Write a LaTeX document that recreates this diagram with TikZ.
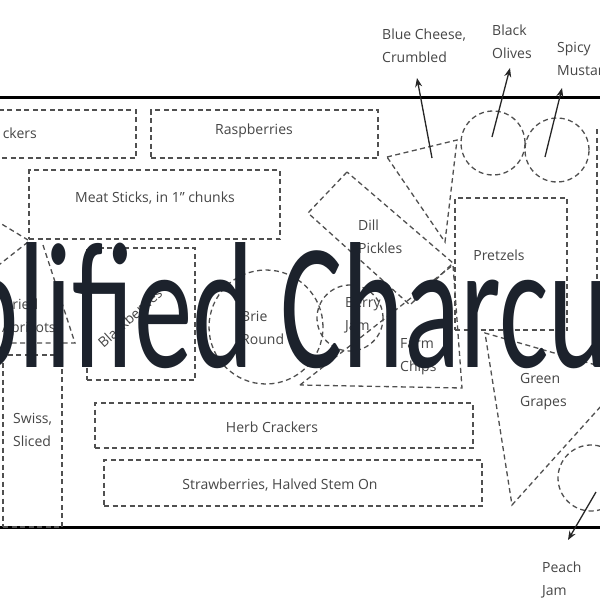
\documentclass[tikz,border=0pt]{standalone}
\usepackage{fontspec}
\setmainfont{Open Sans}
\newfontfamily\bigfont{Carlito}
\usetikzlibrary{arrows.meta}
\definecolor{dashc}{RGB}{80,80,80}
\definecolor{txtc}{RGB}{70,70,70}
\definecolor{bigc}{RGB}{28,34,44}
\begin{document}
\begin{tikzpicture}[x=1pt,y=-1pt,
 zone/.style={draw=dashc, dash pattern=on 5pt off 3.5pt, line width=1.3pt, inner sep=0pt},
 lbl/.style={text=txtc, font=\fontsize{14}{23}\selectfont, inner sep=0pt, align=left},
 arr/.style={draw=black!85, line width=1.3pt, -{Stealth[length=9pt,width=7pt]}},
 board/.style={draw=black, line width=3pt}]
\useasboundingbox (0,0) rectangle (600,600);
\clip (0,0) rectangle (600,600);
\fill[white] (0,0) rectangle (600,600);
% board
\draw[board] (-10,97) -- (610,97);
\draw[board] (-10,527) -- (610,527);
% rectangular zones
\node[zone, minimum width=236pt, minimum height=48pt] (crackbox) at (18,134) {};
\node[zone, minimum width=227pt, minimum height=48pt] (raspbox) at (264.5,134) {};
\node[zone, minimum width=251pt, minimum height=69pt] (meatbox) at (154.5,204.5) {};
\node[zone, minimum width=108pt, minimum height=132pt] (blackbox) at (141,314) {};
\node[zone, minimum width=378pt, minimum height=45pt] (herbbox) at (284,425.5) {};
\node[zone, minimum width=378pt, minimum height=46pt] (strawbox) at (293,483) {};
\node[zone, minimum width=112pt, minimum height=132pt] (pretzbox) at (511,264) {};
\node[zone, minimum width=59pt, minimum height=172pt] (swissbox) at (32.5,441) {};
\node[zone, minimum width=60pt, minimum height=202pt] (rightbox) at (627,229) {};
% circles
\node[zone, circle, minimum size=64pt] (olives) at (493,143) {};
\node[zone, circle, minimum size=64pt] (mustard) at (557,150) {};
\node[zone, circle, minimum size=114pt] (brie) at (266,327) {};
\node[zone, circle, minimum size=66pt] (berryjam) at (350,318) {};
\node[zone, circle, minimum size=66pt] (peach) at (591,478) {};
% polygons
\draw[zone] (387,157) -- (457,140) -- (445,242) -- cycle;
\draw[zone] (347,172) -- (308,213) -- (410,305) -- (453,263) -- cycle;
\draw[zone] (300,385) -- (453,265) -- (462,388) -- cycle;
\draw[zone] (620,372) -- (485,333) -- (512,505) -- (620,385);
\draw[zone] (-5,220) -- (28,240);
\draw[zone] (28,242) -- (-5,268);
\draw[zone] (43,245) -- (75,343) -- (-5,343);
% labels
\node[lbl, anchor=east] (crackers) at (37,133) {ckers};
\node[lbl] (rasp) at (254,131) {Raspberries};
\node[lbl] (meat) at (155,198) {Meat Sticks, in 1” chunks};
\node[lbl] (herb) at (272,427) {Herb Crackers};
\node[lbl] (straw) at (280,485) {Strawberries, Halved Stem On};
\node[lbl] (pretz) at (499,255) {Pretzels};
\node[lbl, rotate=42] (blackb) at (130,318) {Blackberries};
\node[lbl, anchor=west] (swiss) at (13,430) {Swiss,\\Sliced};
\node[lbl, anchor=west] (apric) at (2,317) {Dried\\Apricots};
\node[lbl, anchor=west] (brietxt) at (241,327.5) {Brie\\Round};
\node[lbl, anchor=west] (berrytxt) at (345,315) {Berry\\Jam};
\node[lbl, anchor=west] (farm) at (400,357) {Farm\\Chips};
\node[lbl, anchor=west] (dill) at (358,237) {Dill\\Pickles};
\node[lbl, anchor=west] (grapes) at (520,392) {Green\\Grapes};
\node[lbl, anchor=west] (bluec) at (382,45.5) {Blue Cheese,\\Crumbled};
\node[lbl, anchor=west] (olivetxt) at (492,42) {Black\\Olives};
\node[lbl, anchor=west] (musttxt) at (557,59) {Spicy\\Mustard};
\node[lbl, anchor=west] (peachtxt) at (542,580) {Peach\\Jam};
% arrows
\coordinate (bcin) at (432,158);
\coordinate (bcout) at (417,78);
\coordinate (olin) at (492,137);
\coordinate (olout) at (510,68);
\coordinate (muin) at (545,157);
\coordinate (muout) at (562,88);
\coordinate (pein) at (596,492);
\coordinate (peout) at (568,540);
\draw[arr] (bcin) -- (bcout);
\draw[arr] (olin) -- (olout);
\draw[arr] (muin) -- (muout);
\draw[arr] (pein) -- (peout);
% title
\node[anchor=base west, font=\bigfont\fontsize{180}{180}\selectfont, text=bigc, inner sep=0pt] (title) at (-43,367) {\scalebox{0.65}[1]{plified Charcu}};
\end{tikzpicture}
\end{document}
